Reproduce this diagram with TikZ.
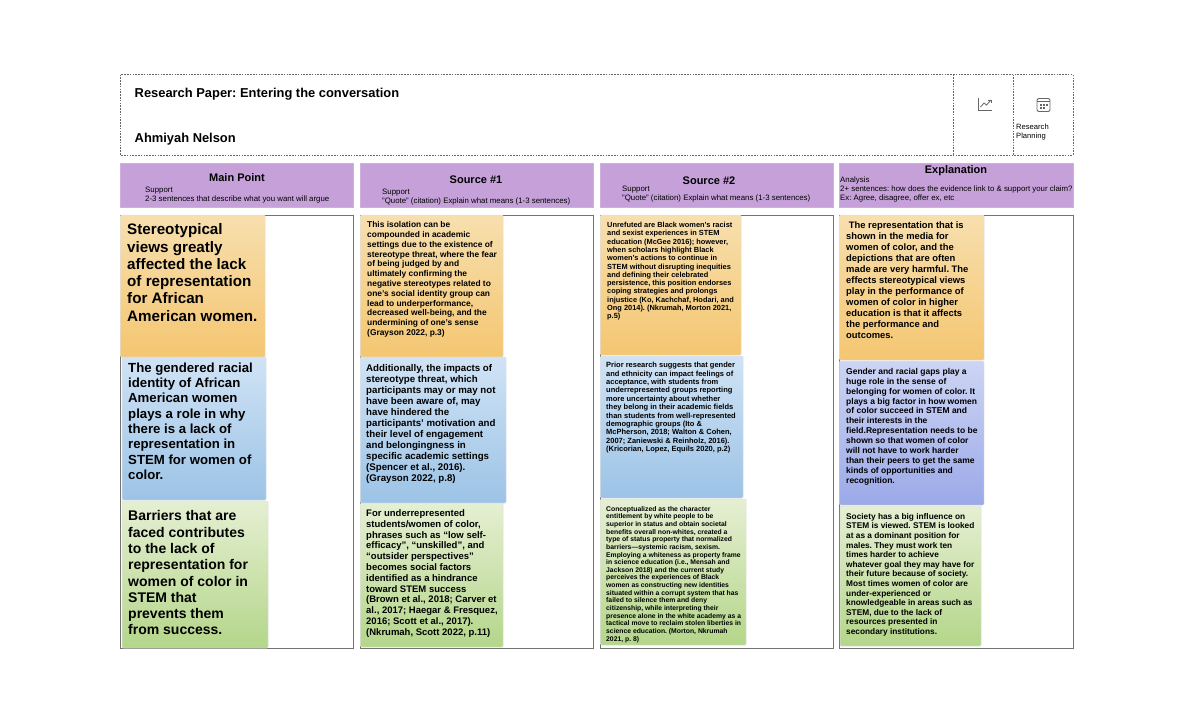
\documentclass[tikz,border=0pt]{standalone}
\usepackage{fontspec}
\setmainfont{Liberation Sans}
\newcommand{\fsize}[2]{\fontsize{#1pt}{#2pt}\selectfont}
\definecolor{headpurple}{HTML}{C6A1D9}
\definecolor{iconGray}{HTML}{666666}
\definecolor{orangeTop}{HTML}{F7DFAE}
\definecolor{orangeLow}{HTML}{F4C671}
\definecolor{blueTop}{HTML}{D0E3F5}
\definecolor{blueLow}{HTML}{9CC3E6}
\definecolor{violetTop}{HTML}{CDD5F4}
\definecolor{violetLow}{HTML}{9BA9E8}
\definecolor{greenTop}{HTML}{E5EFD2}
\definecolor{greenLow}{HTML}{B4D68A}
\tikzset{
    headbox/.style={fill=headpurple,draw=headpurple!85!white,line width=0.5pt},
    colbox/.style={draw=black!55,line width=1pt,fill=white},
    dotbox/.style={draw=black!60,line width=0.9pt,dash pattern=on 1.6pt off 1.2pt},
    notebox/.style={rounded corners=1pt,draw=black!12,line width=0.5pt},
    notetext/.style={anchor=north west,inner sep=0pt,align=left,font=\bfseries},
    headtitle/.style={inner sep=0pt,font=\fsize{11}{13}\bfseries},
    headsub/.style={anchor=north west,inner sep=0pt,align=left,font=\fsize{7.85}{9}}
}
\begin{document}
\frenchspacing
\begin{tikzpicture}[x=1pt,y=-1pt]
    \useasboundingbox[fill=white] (0,0) rectangle (1200,721);
    % title strip
    \draw[dotbox] (120.5,74.5) rectangle (1073,155);
    \draw[dotbox] (953.5,74.5)--(953.5,155);
    \draw[dotbox] (1013.5,74.5)--(1013.5,155);
    \node (paper) [anchor=base west,inner sep=0pt,font=\fsize{12.9}{15}\bfseries] at (134.5,97){Research Paper: Entering the conversation};
    \node (student) [anchor=base west,inner sep=0pt,font=\fsize{12.9}{15}\bfseries] at (134.5,142){Ahmiyah Nelson};
    \node (planning) [headsub,font=\fsize{7.6}{9}] at (1016,123.5){Research\\Planning};
    % chart icon
    \draw[iconGray,line width=0.8pt] (978.5,98)--(978.5,110.5)--(991.5,110.5);
    \draw[iconGray,line width=0.8pt] (980.5,107)--(984,103)--(986.5,105)--(991,100);
    \draw[iconGray,line width=0.8pt] (988,100)--(991,100)--(991,103);
    % calendar icon
    \draw[iconGray,line width=0.9pt,rounded corners=2pt] (1037,98.5) rectangle (1050,111.5);
    \draw[iconGray,line width=0.8pt] (1037,101.5)--(1050,101.5);
    \foreach \i in {0,1,2}{
        \fill[iconGray] (1040.2+2.9*\i,104) rectangle +(1.5,1.5);
    }
    \foreach \i in {0,1}{
        \fill[iconGray] (1040.2+2.9*\i,107) rectangle +(1.5,1.5);
    }
    % column frames and purple heads
    \foreach \xa/\xb in {120.5/353,360.5/593,600.5/833,839.5/1073}{
        \draw[headbox] (\xa,163.5) rectangle (\xb,207);
        \draw[colbox] (\xa,215.5) rectangle (\xb,648);
    }
    % sticky notes
    \foreach \xa/\ya/\xb/\yb in {120.5/215/265/357,360.5/215/503/357,600.5/215/741/355,839.5/215/984/360}{
        \draw[notebox,top color=orangeTop,bottom color=orangeLow] (\xa,\ya) rectangle (\xb,\yb);
    }
    \foreach \xa/\ya/\xb/\yb in {122/357/266/500,360.5/357/506/503,600.5/356/743/498}{
        \draw[notebox,top color=blueTop,bottom color=blueLow] (\xa,\ya) rectangle (\xb,\yb);
    }
    \draw[notebox,top color=violetTop,bottom color=violetLow] (839.5,361) rectangle (984,505);
    \foreach \xa/\ya/\xb/\yb in {122/501/268/648,360.5/503/503/647,600.5/499/746/645,840/506/981/646}{
        \draw[notebox,top color=greenTop,bottom color=greenLow] (\xa,\ya) rectangle (\xb,\yb);
    }
    % heads
    \node (mainhead) [headtitle] at (237,178){Main Point};
    \node (mainsub) [headsub] at (145,186.5){Support\\2-3 sentences that describe what you want will argue};
    \node (onehead) [headtitle] at (476,179.5){Source \#1};
    \node (onesub) [headsub] at (382,188.5){Support\\"Quote" (citation) Explain what means (1-3 sentences)};
    \node (twohead) [headtitle] at (709,181){Source \#2};
    \node (twosub) [headsub] at (622,185.5){Support\\"Quote" (citation) Explain what means (1-3 sentences)};
    \node (exphead) [headtitle] at (956,170.5){Explanation};
    \node (expsub) [headsub] at (840,176.5){Analysis\\2+ sentences: how does the evidence link to \& support your claim?\\Ex: Agree, disagree, offer ex, etc};
    % main point notes
    \node (mainA) [notetext,font=\fsize{15.2}{17.3}\bfseries] at (127,223.5){Stereotypical\\views greatly\\affected the lack\\of representation\\for African\\American women.};
    \node (mainB) [notetext,font=\fsize{13.2}{15.3}\bfseries] at (128,362.5){The gendered racial\\identity of African\\American women\\plays a role in why\\there is a lack of\\representation in\\STEM for women of\\color.};
    \node (mainC) [notetext,font=\fsize{14}{16.3}\bfseries] at (128,510.5){Barriers that are\\faced contributes\\to the lack of\\representation for\\women of color in\\STEM that\\prevents them\\from success.};
    % source one notes
    \node (oneA) [notetext,font=\fsize{8.4}{9.8}\bfseries] at (367,221.5){This isolation can be\\compounded in academic\\settings due to the existence of\\stereotype threat, where the fear\\of being judged by and\\ultimately confirming the\\negative stereotypes related to\\one's social identity group can\\lead to underperformance,\\decreased well-being, and the\\undermining of one's sense\\(Grayson 2022, p.3)};
    \node (oneB) [notetext,font=\fsize{9.7}{11}\bfseries] at (366,364.5){Additionally, the impacts of\\stereotype threat, which\\participants may or may not\\have been aware of, may\\have hindered the\\participants' motivation and\\their level of engagement\\and belongingness in\\specific academic settings\\(Spencer et al., 2016).\\(Grayson 2022, p.8)};
    \node (oneC) [notetext,font=\fsize{9.5}{10.8}\bfseries] at (366,509.5){For underrepresented\\students/women of color,\\phrases such as “low self-\\efficacy”, “unskilled”, and\\“outsider perspectives”\\becomes social factors\\identified as a hindrance\\toward STEM success\\(Brown et al., 2018; Carver et\\al., 2017; Haegar \& Fresquez,\\2016; Scott et al., 2017).\\(Nkrumah, Scott 2022, p.11)};
    % source two notes
    \node (twoA) [notetext,font=\fsize{7.4}{8.3}\bfseries] at (607,222){Unrefuted are Black women's racist\\and sexist experiences in STEM\\education (McGee 2016); however,\\when scholars highlight Black\\women's actions to continue in\\STEM without disrupting inequities\\and defining their celebrated\\persistence, this position endorses\\coping strategies and prolongs\\injustice (Ko, Kachchaf, Hodari, and\\Ong 2014). (Nkrumah, Morton 2021,\\p.5)};
    \node (twoB) [notetext,font=\fsize{7.5}{8.4}\bfseries] at (606,362){Prior research suggests that gender\\and ethnicity can impact feelings of\\acceptance, with students from\\underrepresented groups reporting\\more uncertainty about whether\\they belong in their academic fields\\than students from well-represented\\demographic groups (Ito \&\\McPherson, 2018; Walton \& Cohen,\\2007; Zaniewski \& Reinholz, 2016).\\(Kricorian, Lopez, Equils 2020, p.2)};
    \node (twoC) [notetext,font=\fsize{6.8}{7.65}\bfseries] at (606,506){Conceptualized as the character\\entitlement by white people to be\\superior in status and obtain societal\\benefits overall non-whites, created a\\type of status property that normalized\\barriers—systemic racism, sexism.\\Employing a whiteness as property frame\\in science education (i.e., Mensah and\\Jackson 2018) and the current study\\perceives the experiences of Black\\women as constructing new identities\\situated within a corrupt system that has\\failed to silence them and deny\\citizenship, while interpreting their\\presence alone in the white academy as a\\tactical move to reclaim stolen liberties in\\science education. (Morton, Nkrumah\\2021, p. 8)};
    % explanation notes
    \node (expA) [notetext,font=\fsize{9.4}{11}\bfseries] at (846,221.5){\hspace*{2.6pt}The representation that is\\shown in the media for\\women of color, and the\\depictions that are often\\made are very harmful. The\\effects stereotypical views\\play in the performance of\\women of color in higher\\education is that it affects\\the performance and\\outcomes.};
    \node (expB) [notetext,font=\fsize{8.5}{9.9}\bfseries] at (846,368){Gender and racial gaps play a\\huge role in the sense of\\belonging for women of color. It\\plays a big factor in how women\\of color succeed in STEM and\\their interests in the\\field.Representation needs to be\\shown so that women of color\\will not have to work harder\\than their peers to get the same\\kinds of opportunities and\\recognition.};
    \node (expC) [notetext,font=\fsize{8.3}{9.6}\bfseries] at (846,513){Society has a big influence on\\STEM is viewed. STEM is looked\\at as a dominant position for\\males. They must work ten\\times harder to achieve\\whatever goal they may have for\\their future because of society.\\Most times women of color are\\under-experienced or\\knowledgeable in areas such as\\STEM, due to the lack of\\resources presented in\\secondary institutions.};
\end{tikzpicture}
\end{document}
